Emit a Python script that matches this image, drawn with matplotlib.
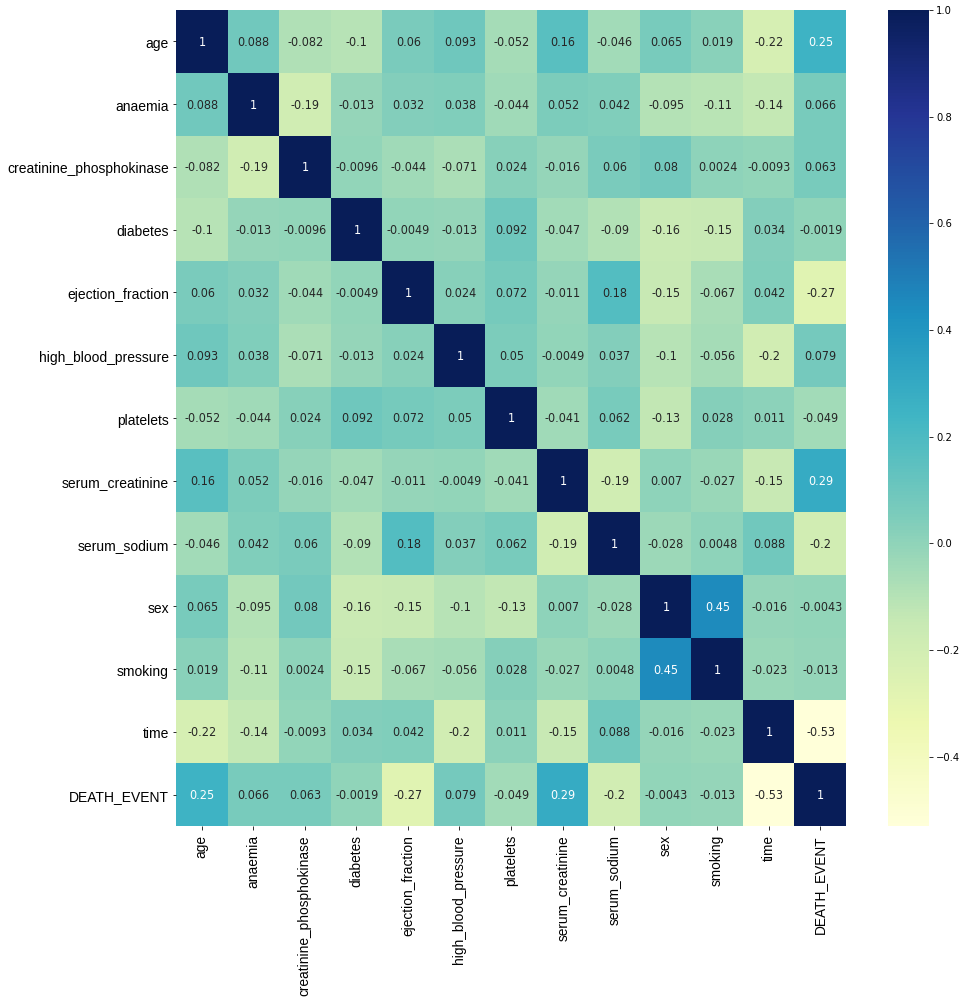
import numpy as np
import matplotlib
matplotlib.use('Agg')
import matplotlib.pyplot as plt
from matplotlib.transforms import ScaledTranslation

labels = ['age','anaemia','creatinine_phosphokinase','diabetes','ejection_fraction','high_blood_pressure','platelets','serum_creatinine','serum_sodium','sex','smoking','time','DEATH_EVENT']
row_age = [1,0.088,-0.082,-0.1,0.06,0.093,-0.052,0.16,-0.046,0.065,0.019,-0.22,0.25]
row_anaemia = [0.088,1,-0.19,-0.013,0.032,0.038,-0.044,0.052,0.042,-0.095,-0.11,-0.14,0.066]
row_cpk = [-0.082,-0.19,1,-0.0096,-0.044,-0.071,0.024,-0.016,0.06,0.08,0.0024,-0.0093,0.063]
row_diabetes = [-0.1,-0.013,-0.0096,1,-0.0049,-0.013,0.092,-0.047,-0.09,-0.16,-0.15,0.034,-0.0019]
row_ef = [0.06,0.032,-0.044,-0.0049,1,0.024,0.072,-0.011,0.18,-0.15,-0.067,0.042,-0.27]
row_hbp = [0.093,0.038,-0.071,-0.013,0.024,1,0.05,-0.0049,0.037,-0.1,-0.056,-0.2,0.079]
row_platelets = [-0.052,-0.044,0.024,0.092,0.072,0.05,1,-0.041,0.062,-0.13,0.028,0.011,-0.049]
row_sc = [0.16,0.052,-0.016,-0.047,-0.011,-0.0049,-0.041,1,-0.19,0.007,-0.027,-0.15,0.29]
row_ss = [-0.046,0.042,0.06,-0.09,0.18,0.037,0.062,-0.19,1,-0.028,0.0048,0.088,-0.2]
row_sex = [0.065,-0.095,0.08,-0.16,-0.15,-0.1,-0.13,0.007,-0.028,1,0.45,-0.016,-0.0043]
row_smoking = [0.019,-0.11,0.0024,-0.15,-0.067,-0.056,0.028,-0.027,0.0048,0.45,1,-0.023,-0.013]
row_time = [-0.22,-0.14,-0.0093,0.034,0.042,-0.2,0.011,-0.15,0.088,-0.016,-0.023,1,-0.53]
row_death = [0.25,0.066,0.063,-0.0019,-0.27,0.079,-0.049,0.29,-0.2,-0.0043,-0.013,-0.53,1]
rows = [row_age,row_anaemia,row_cpk,row_diabetes,row_ef,row_hbp,row_platelets,row_sc,row_ss,row_sex,row_smoking,row_time,row_death]
M = np.array(rows)

plt.rcParams['font.family'] = ['DejaVu Sans']
W, H = 966, 1002
fig = plt.figure(figsize=(W/72, H/72), dpi=72, facecolor='white')
ax = fig.add_axes([176/W, 1-826/H, (846-176)/W, (826-10)/H])
im = ax.pcolormesh(np.arange(14), np.arange(14), M, cmap='YlGnBu', vmin=M.min(), vmax=1)
ax.set_xlim(0,13); ax.set_ylim(13,0)
for s in ax.spines.values():
    s.set_visible(False)
ax.set_xticks(np.arange(13)+.5, labels, rotation=90, fontsize=13.8, family='Liberation Sans')
ax.set_yticks(np.arange(13)+.5, labels, rotation=0, fontsize=13.9, family='Liberation Sans')
ax.tick_params(length=3.5, width=0.8)
ax.tick_params(axis='x', pad=5.5)
ax.tick_params(axis='y', pad=3.5)
down = ScaledTranslation(0, -1/72, fig.dpi_scale_trans)
for t in ax.get_yticklabels():
    t.set_transform(t.get_transform() + down)
annot_tf = ax.transData + ScaledTranslation(0.5/72, -1/72, fig.dpi_scale_trans)
for i in range(13):
    for j in range(13):
        v = M[i,j]
        ax.text(j+.5, i+.5, f'{v:.2g}', ha='center', va='center', fontsize=12.5,
                family='DejaVu Sans', stretch='condensed', transform=annot_tf,
                color='white' if v > 0.2 else '#262626')
cax = fig.add_axes([888/W, 1-826/H, (929-888)/W, (826-10)/H])
cb = fig.colorbar(im, cax=cax)
cb.outline.set_visible(False)
cb.set_ticks(np.arange(-0.4,1.01,0.2))
cb.ax.set_yticklabels(['\u22120.4','\u22120.2','0.0','0.2','0.4','0.6','0.8','1.0'], fontsize=10, family='DejaVu Sans')
cb.ax.tick_params(length=3.5, width=0.8, pad=3.5)
fig.savefig('out.png', dpi=72, facecolor='white')
